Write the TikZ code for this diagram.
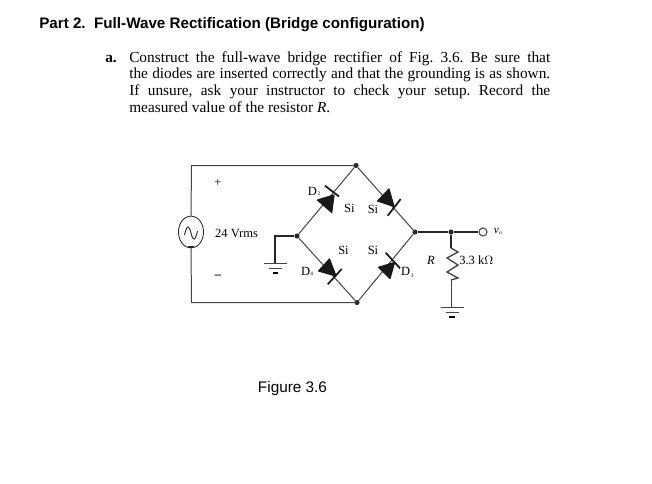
\documentclass[tikz,border=0pt]{standalone}
\usepackage{fontspec}
\usetikzlibrary{shapes.geometric}
\setmainfont{Liberation Serif}
\newfontfamily\sansf{Liberation Sans}
\definecolor{wire}{gray}{0.27}
\tikzset{
  wire/.style={draw=wire,line width=.75pt},
  heavy/.style={draw=black!85,line width=1.2pt},
  dot/.style={circle,fill=black!85,inner sep=0pt,minimum size=3.8pt},
  body/.style={inner sep=0pt,anchor=base west,font=\fontsize{11.5pt}{13pt}\selectfont},
  lab/.style={inner sep=0pt,font=\fontsize{9.4pt}{10pt}\selectfont},
  sub/.style={inner sep=0pt,font=\fontsize{4pt}{5pt}\selectfont},
  diode/.style={fill=black!90,draw=black!90,line width=.9pt,line join=round},
  bar/.style={draw=black!90,line width=1.3pt}
}
\newcommand{\jline}[3]{\node[body] (#1) at (129,#2) {\makebox[315.75pt][s]{#3}};}
\begin{document}
\begin{tikzpicture}[x=.75pt,y=-.75pt]
\useasboundingbox (0,0) rectangle (652,483);
\fill[white] (0,0) rectangle (652,483);
% text
\frenchspacing
\node[inner sep=0pt,anchor=base west,font=\sansf\bfseries\fontsize{11.4pt}{13pt}\selectfont] (title) at (39,28) {Part 2.\ \ Full-Wave Rectification (Bridge configuration)};
\node[body,font=\bfseries\fontsize{11.5pt}{13pt}\selectfont] (a) at (105,62) {a.};
\jline{l1}{62}{Construct the full-wave bridge rectifier of Fig. 3.6. Be sure that}
\jline{l2}{78}{the diodes are inserted correctly and that the grounding is as shown.}
\jline{l3}{95}{If unsure, ask your instructor to check your setup. Record the}
\node[body] (l4) at (129,112) {\makebox[150.75pt][s]{measured value of the resistor \textit{R}.}};
\node[inner sep=0pt,font=\sansf\fontsize{11.5pt}{13pt}\selectfont] (fig) at (292.5,388.5) {Figure 3.6};
% junctions
\node[dot] (top) at (356,165.5) {};
\node[dot] (right) at (415,232) {};
\node[dot] (bottom) at (357,302.5) {};
\node[dot] (left) at (297,236) {};
\node[dot] (out) at (451,232) {};
\coordinate (tl) at (191.5,165.5);
\coordinate (bl) at (191.5,302.5);
\coordinate (gl) at (275,236);
\coordinate (gl2) at (275,263);
\coordinate (rb) at (451,280);
\coordinate (gr) at (451,307);
\node[circle,draw=wire,fill=white,line width=.8pt,inner sep=0pt,minimum size=6pt] (vo) at (483,232) {};
\node[ellipse,draw=black!80,fill=white,line width=.7pt,minimum width=18.75pt,minimum height=24pt,inner sep=0pt] (src) at (191,232) {};
% wires
\draw[wire] (src.north) -- (tl) -- (top.center);
\draw[wire] (src.south) -- (bl) -- (bottom.center);
\draw[wire] (top) -- (right);
\draw[wire] (right) -- (bottom);
\draw[wire] (bottom) -- (left);
\draw[wire] (left) -- (top);
\draw[heavy] (left) -- (gl) -- (gl2);
\draw[heavy] (right) -- (out);
\draw[heavy] (out) -- (vo);
\draw[heavy] (out) -- (451,248);
\draw[wire,line width=1pt,line join=miter] (451,248) -- (458,252) -- (447,258) -- (458,265) -- (447,272) -- (458,278) -- (rb);
\draw[wire] (rb) -- (gr);
% source details
\draw[black!85,line width=1.4pt] (188,247) -- (194,247);
\draw[black!85,line width=.7pt] (184.5,235) .. controls (187,224) and (189,225) .. (191,233) .. controls (193,241) and (195,242) .. (197.5,231);
% grounds
\draw[wire] (264,263) -- (287,263) (269,268) -- (282,268);
\draw[black,line width=.8pt] (273,273) -- (278,273);
\draw[wire] (441,307) -- (464,307) (446,312) -- (459,312);
\draw[black,line width=.8pt] (449,317) -- (455,317);
% diodes
\filldraw[diode] (317.5,200) -- (331.7,212.5) -- (334,195) -- cycle;
\draw[bar] (325,185.7) -- (339,196.5);
\filldraw[diode] (377.5,201) -- (389,189) -- (394,206.5) -- cycle;
\draw[bar] (387.7,215.7) -- (400.7,199);
\filldraw[diode] (378.5,267.3) -- (390,278.5) -- (394.5,262.5) -- cycle;
\draw[bar] (385.7,252.7) -- (400,268.3);
\filldraw[diode] (318.5,271) -- (329.5,259) -- (336,276) -- cycle;
\draw[bar] (327.7,284.3) -- (341.7,269);
% labels
\node[lab] (plus) at (218,183) {+};
\node[lab] (minus) at (218,277) {\textbf{--}};
\node[lab] (vrms) at (236.5,233) {24 Vrms};
\node[lab] (d2) at (312.3,191.7) {D};
\node[sub] (d2s) at (319,194) {2};
\node[lab] (d4) at (305.7,271) {D};
\node[sub] (d4s) at (311.7,273.3) {4};
\node[lab] (d3) at (405.7,271.7) {D};
\node[sub] (d3s) at (412.3,275.7) {3};
\node[lab] (s1) at (349.3,208.5) {Si};
\node[lab] (s2) at (373,209.5) {Si};
\node[lab] (s3) at (343.5,250) {Si};
\node[lab] (s4) at (373,250) {Si};
\node[lab,font=\itshape\fontsize{9.4pt}{10pt}\selectfont] (rl) at (431,260.5) {R};
\node[lab,anchor=west] (rv) at (459,260.5) {3.3 k$\Omega$};
\node[lab,font=\itshape\fontsize{8.5pt}{8pt}\selectfont] (vol) at (496.5,231) {v};
\node[sub] (vos) at (500.5,233) {o};
\end{tikzpicture}
\end{document}
